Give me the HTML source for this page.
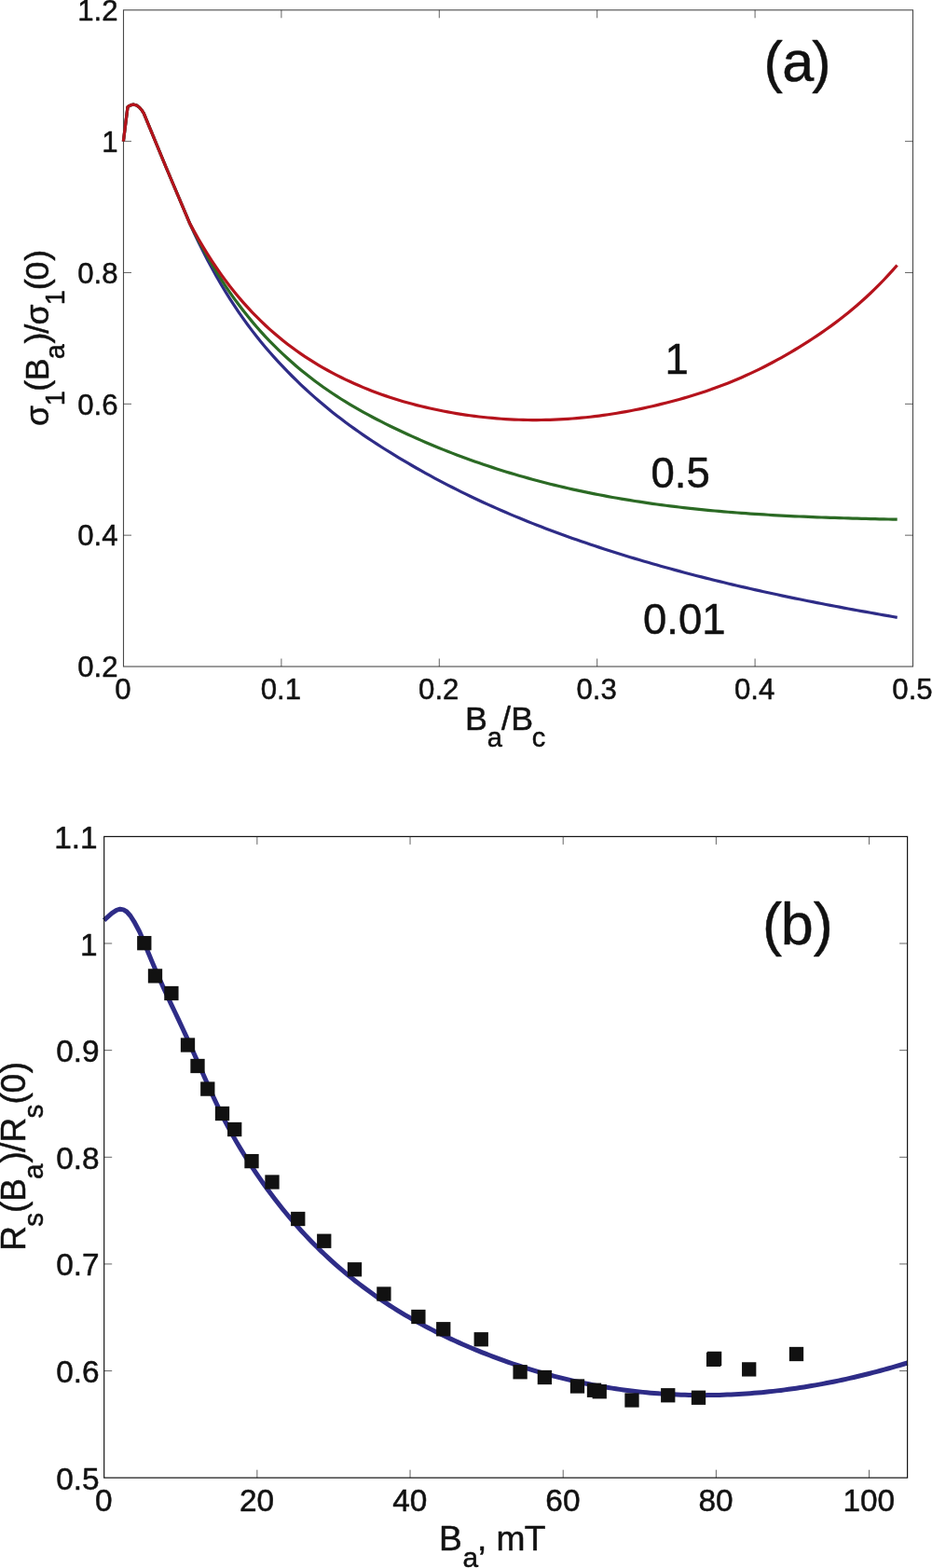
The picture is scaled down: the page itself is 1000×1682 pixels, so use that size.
<!DOCTYPE html>
<html lang="en"><head><meta charset="utf-8"><title>Figure</title>
<style>html,body{margin:0;padding:0;background:#fff;}body{width:1000px;height:1682px;overflow:hidden;}svg{display:block;}text{font-family:"Liberation Sans", sans-serif;fill:#111;stroke:#111;stroke-width:0.5px;stroke-linejoin:round;}</style></head><body>
<svg width="1000" height="1682" viewBox="0 0 1000 1682">
<rect x="0" y="0" width="1000" height="1682" fill="#fff"/>
<g id="plot-a">
<rect x="132.50" y="10.80" width="847.00" height="704.20" fill="none" stroke="#4a4a4a" stroke-width="1.1"/>
<path d="M301.90 715.00 v-8.5 M301.90 10.80 v8.5 M132.50 151.64 h8.5 M979.50 151.64 h-8.5 M471.30 715.00 v-8.5 M471.30 10.80 v8.5 M132.50 292.48 h8.5 M979.50 292.48 h-8.5 M640.70 715.00 v-8.5 M640.70 10.80 v8.5 M132.50 433.32 h8.5 M979.50 433.32 h-8.5 M810.10 715.00 v-8.5 M810.10 10.80 v8.5 M132.50 574.16 h8.5 M979.50 574.16 h-8.5" fill="none" stroke="#222" stroke-width="0.7"/>
<path d="M132.40 151.60 L137.00 114.80 L138.60 113.60 L140.60 112.70 L143.60 112.20 L146.60 113.00 L149.60 115.30 L152.20 118.30 L154.20 121.40 L178.40 180.00 L186.00 198.00 L203.60 239.61 L208.37 250.00 L213.15 260.00 L217.92 269.63 L222.70 278.91 L227.47 287.83 L232.25 296.42 L237.02 304.69 L241.79 312.65 L246.57 320.31 L251.34 327.68 L256.12 334.79 L260.89 341.64 L265.66 348.24 L270.44 354.61 L275.21 360.75 L279.99 366.69 L284.76 372.43 L289.54 378.00 L294.31 383.39 L299.08 388.62 L303.86 393.71 L308.63 398.67 L313.41 403.50 L318.18 408.20 L322.96 412.79 L327.73 417.27 L332.50 421.63 L337.28 425.89 L342.05 430.04 L346.83 434.09 L351.60 438.04 L356.37 441.90 L361.15 445.67 L365.92 449.35 L370.70 452.95 L375.47 456.48 L380.25 459.92 L385.02 463.30 L389.79 466.61 L394.57 469.85 L399.34 473.03 L404.12 476.16 L408.89 479.23 L413.67 482.26 L418.44 485.23 L423.21 488.17 L427.99 491.06 L432.76 493.92 L437.54 496.73 L442.31 499.50 L447.08 502.24 L451.86 504.94 L456.63 507.60 L461.41 510.22 L466.18 512.80 L470.96 515.35 L475.73 517.87 L480.50 520.34 L485.28 522.79 L490.05 525.19 L494.83 527.57 L499.60 529.91 L504.38 532.22 L509.15 534.49 L513.92 536.74 L518.70 538.95 L523.47 541.13 L528.25 543.29 L533.02 545.41 L537.79 547.50 L542.57 549.56 L547.34 551.60 L552.12 553.61 L556.89 555.59 L561.67 557.54 L566.44 559.47 L571.21 561.37 L575.99 563.25 L580.76 565.10 L585.54 566.92 L590.31 568.73 L595.09 570.51 L599.86 572.26 L604.63 574.00 L609.41 575.71 L614.18 577.40 L618.96 579.07 L623.73 580.72 L628.51 582.35 L633.28 583.96 L638.05 585.56 L642.83 587.13 L647.60 588.69 L652.38 590.22 L657.15 591.75 L661.92 593.25 L666.70 594.74 L671.47 596.21 L676.25 597.67 L681.02 599.11 L685.80 600.53 L690.57 601.94 L695.34 603.33 L700.12 604.71 L704.89 606.07 L709.67 607.42 L714.44 608.75 L719.22 610.07 L723.99 611.37 L728.76 612.66 L733.54 613.94 L738.31 615.20 L743.09 616.45 L747.86 617.68 L752.63 618.90 L757.41 620.11 L762.18 621.31 L766.96 622.49 L771.73 623.66 L776.51 624.82 L781.28 625.96 L786.05 627.10 L790.83 628.22 L795.60 629.33 L800.38 630.43 L805.15 631.51 L809.93 632.59 L814.70 633.66 L819.47 634.71 L824.25 635.75 L829.02 636.79 L833.80 637.81 L838.57 638.83 L843.34 639.83 L848.12 640.82 L852.89 641.81 L857.67 642.79 L862.44 643.75 L867.22 644.71 L871.99 645.66 L876.76 646.60 L881.54 647.53 L886.31 648.46 L891.09 649.37 L895.86 650.28 L900.64 651.18 L905.41 652.08 L910.18 652.97 L914.96 653.85 L919.73 654.72 L924.51 655.58 L929.28 656.44 L934.05 657.30 L938.83 658.15 L943.60 658.99 L948.38 659.82 L953.15 660.65 L957.93 661.48 L962.70 662.30" fill="none" stroke="#2e2c87" stroke-width="3.2" stroke-linejoin="round"/>
<path d="M132.40 151.60 L137.00 114.80 L138.60 113.60 L140.60 112.70 L143.60 112.20 L146.60 113.00 L149.60 115.30 L152.20 118.30 L154.20 121.40 L178.40 180.00 L186.00 198.00 L203.60 239.61 L208.37 249.12 L213.15 258.28 L217.92 267.10 L222.70 275.59 L227.47 283.77 L232.25 291.65 L237.02 299.22 L241.79 306.52 L246.57 313.54 L251.34 320.30 L256.12 326.80 L260.89 333.06 L265.66 339.09 L270.44 344.89 L275.21 350.48 L279.99 355.87 L284.76 361.07 L289.54 366.09 L294.31 370.93 L299.08 375.62 L303.86 380.15 L308.63 384.55 L313.41 388.81 L318.18 392.94 L322.96 396.94 L327.73 400.82 L332.50 404.59 L337.28 408.24 L342.05 411.78 L346.83 415.21 L351.60 418.55 L356.37 421.78 L361.15 424.93 L365.92 427.98 L370.70 430.96 L375.47 433.85 L380.25 436.66 L385.02 439.41 L389.79 442.08 L394.57 444.69 L399.34 447.25 L404.12 449.74 L408.89 452.19 L413.67 454.59 L418.44 456.94 L423.21 459.26 L427.99 461.54 L432.76 463.78 L437.54 465.99 L442.31 468.16 L447.08 470.29 L451.86 472.39 L456.63 474.46 L461.41 476.49 L466.18 478.48 L470.96 480.44 L475.73 482.36 L480.50 484.26 L485.28 486.12 L490.05 487.94 L494.83 489.73 L499.60 491.50 L504.38 493.22 L509.15 494.92 L513.92 496.59 L518.70 498.22 L523.47 499.82 L528.25 501.39 L533.02 502.94 L537.79 504.45 L542.57 505.93 L547.34 507.39 L552.12 508.81 L556.89 510.21 L561.67 511.57 L566.44 512.91 L571.21 514.22 L575.99 515.51 L580.76 516.77 L585.54 518.00 L590.31 519.20 L595.09 520.38 L599.86 521.53 L604.63 522.66 L609.41 523.76 L614.18 524.83 L618.96 525.88 L623.73 526.91 L628.51 527.92 L633.28 528.89 L638.05 529.85 L642.83 530.78 L647.60 531.69 L652.38 532.58 L657.15 533.45 L661.92 534.29 L666.70 535.12 L671.47 535.92 L676.25 536.70 L681.02 537.46 L685.80 538.20 L690.57 538.92 L695.34 539.62 L700.12 540.30 L704.89 540.96 L709.67 541.60 L714.44 542.23 L719.22 542.84 L723.99 543.43 L728.76 544.00 L733.54 544.55 L738.31 545.09 L743.09 545.61 L747.86 546.12 L752.63 546.61 L757.41 547.08 L762.18 547.54 L766.96 547.98 L771.73 548.41 L776.51 548.83 L781.28 549.23 L786.05 549.62 L790.83 549.99 L795.60 550.35 L800.38 550.70 L805.15 551.03 L809.93 551.36 L814.70 551.67 L819.47 551.97 L824.25 552.26 L829.02 552.54 L833.80 552.81 L838.57 553.06 L843.34 553.31 L848.12 553.55 L852.89 553.78 L857.67 554.00 L862.44 554.21 L867.22 554.41 L871.99 554.61 L876.76 554.80 L881.54 554.98 L886.31 555.15 L891.09 555.31 L895.86 555.47 L900.64 555.63 L905.41 555.77 L910.18 555.92 L914.96 556.05 L919.73 556.19 L924.51 556.31 L929.28 556.44 L934.05 556.55 L938.83 556.67 L943.60 556.78 L948.38 556.89 L953.15 557.00 L957.93 557.10 L962.70 557.20" fill="none" stroke="#2b6a24" stroke-width="3.2" stroke-linejoin="round"/>
<path d="M132.40 151.60 L137.00 114.80 L138.60 113.60 L140.60 112.70 L143.60 112.20 L146.60 113.00 L149.60 115.30 L152.20 118.30 L154.20 121.40 L178.40 180.00 L186.00 198.00 L203.60 239.61 L208.37 248.37 L213.15 256.79 L217.92 264.88 L222.69 272.64 L227.47 280.08 L232.24 287.23 L237.02 294.08 L241.79 300.65 L246.56 306.96 L251.34 313.00 L256.11 318.80 L260.88 324.36 L265.66 329.69 L270.43 334.81 L275.20 339.72 L279.98 344.43 L284.75 348.97 L289.52 353.33 L294.30 357.53 L299.07 361.57 L303.85 365.46 L308.62 369.21 L313.39 372.82 L318.17 376.29 L322.94 379.63 L327.71 382.85 L332.49 385.95 L337.26 388.93 L342.03 391.81 L346.81 394.58 L351.58 397.25 L356.35 399.84 L361.13 402.33 L365.90 404.74 L370.68 407.07 L375.45 409.32 L380.22 411.49 L385.00 413.58 L389.77 415.60 L394.54 417.55 L399.32 419.42 L404.09 421.22 L408.86 422.96 L413.64 424.63 L418.41 426.23 L423.18 427.77 L427.96 429.25 L432.73 430.67 L437.51 432.03 L442.28 433.33 L447.05 434.58 L451.83 435.77 L456.60 436.91 L461.37 438.01 L466.15 439.05 L470.92 440.05 L475.69 441.00 L480.47 441.90 L485.24 442.76 L490.02 443.57 L494.79 444.34 L499.56 445.07 L504.34 445.75 L509.11 446.38 L513.88 446.97 L518.66 447.51 L523.43 448.01 L528.20 448.46 L532.98 448.87 L537.75 449.24 L542.52 449.55 L547.30 449.83 L552.07 450.06 L556.85 450.25 L561.62 450.39 L566.39 450.48 L571.17 450.54 L575.94 450.54 L580.71 450.51 L585.49 450.43 L590.26 450.30 L595.03 450.14 L599.81 449.92 L604.58 449.67 L609.35 449.37 L614.13 449.02 L618.90 448.64 L623.68 448.21 L628.45 447.73 L633.22 447.22 L638.00 446.66 L642.77 446.06 L647.54 445.41 L652.32 444.73 L657.09 444.00 L661.86 443.24 L666.64 442.43 L671.41 441.59 L676.18 440.70 L680.96 439.78 L685.73 438.81 L690.51 437.81 L695.28 436.77 L700.05 435.69 L704.83 434.58 L709.60 433.43 L714.37 432.24 L719.15 431.02 L723.92 429.75 L728.69 428.45 L733.47 427.10 L738.24 425.70 L743.02 424.27 L747.79 422.78 L752.56 421.24 L757.34 419.66 L762.11 418.02 L766.88 416.32 L771.66 414.57 L776.43 412.77 L781.20 410.90 L785.98 408.97 L790.75 406.98 L795.52 404.93 L800.30 402.81 L805.07 400.63 L809.85 398.39 L814.62 396.08 L819.39 393.70 L824.17 391.26 L828.94 388.76 L833.71 386.18 L838.49 383.55 L843.26 380.85 L848.03 378.08 L852.81 375.25 L857.58 372.35 L862.35 369.38 L867.13 366.35 L871.90 363.25 L876.68 360.08 L881.45 356.84 L886.22 353.51 L891.00 350.10 L895.77 346.59 L900.54 342.99 L905.32 339.28 L910.09 335.47 L914.86 331.53 L919.64 327.48 L924.41 323.29 L929.18 318.98 L933.96 314.52 L938.73 309.92 L943.51 305.16 L948.28 300.25 L953.05 295.18 L957.83 289.93 L962.60 284.51" fill="none" stroke="#b5131c" stroke-width="3.2" stroke-linejoin="round"/>
<text x="132.00" y="749.60" font-size="31.20" text-anchor="middle">0</text>
<text x="301.40" y="749.60" font-size="31.20" text-anchor="middle">0.1</text>
<text x="470.80" y="749.60" font-size="31.20" text-anchor="middle">0.2</text>
<text x="640.20" y="749.60" font-size="31.20" text-anchor="middle">0.3</text>
<text x="809.60" y="749.60" font-size="31.20" text-anchor="middle">0.4</text>
<text x="979.00" y="749.60" font-size="31.20" text-anchor="middle">0.5</text>
<text x="126.60" y="22.10" font-size="31.20" text-anchor="end">1.2</text>
<text x="126.60" y="162.94" font-size="31.20" text-anchor="end">1</text>
<text x="126.60" y="303.78" font-size="31.20" text-anchor="end">0.8</text>
<text x="126.60" y="444.62" font-size="31.20" text-anchor="end">0.6</text>
<text x="126.60" y="585.46" font-size="31.20" text-anchor="end">0.4</text>
<text x="126.60" y="726.30" font-size="31.20" text-anchor="end">0.2</text>
<text x="499.06" y="782.80" font-size="35.80" text-anchor="start">B</text>
<text x="522.77" y="800.80" font-size="29.00" text-anchor="start">a</text>
<text x="538.00" y="782.80" font-size="35.80" text-anchor="start">/</text>
<text x="548.26" y="782.80" font-size="35.80" text-anchor="start">B</text>
<text x="570.77" y="800.80" font-size="29.00" text-anchor="start">c</text>
<g transform="translate(52.3 456) rotate(-90)">
<text x="-1.10" y="0.00" font-size="35.80" text-anchor="start">σ</text>
<text x="20.69" y="17.00" font-size="29.00" text-anchor="start">1</text>
<text x="36.28" y="0.00" font-size="35.80" text-anchor="start">(</text>
<text x="47.66" y="0.00" font-size="35.80" text-anchor="start">B</text>
<text x="70.77" y="17.00" font-size="29.00" text-anchor="start">a</text>
<text x="87.59" y="0.00" font-size="35.80" text-anchor="start">)</text>
<text x="98.20" y="0.00" font-size="35.80" text-anchor="start">/</text>
<text x="107.50" y="0.00" font-size="35.80" text-anchor="start">σ</text>
<text x="128.89" y="17.00" font-size="29.00" text-anchor="start">1</text>
<text x="144.68" y="0.00" font-size="35.80" text-anchor="start">(</text>
<text x="155.50" y="0.00" font-size="35.80" text-anchor="start">0</text>
<text x="176.19" y="0.00" font-size="35.80" text-anchor="start">)</text>
</g>
<text x="713.50" y="401.00" font-size="45.50" text-anchor="start">1</text>
<text x="698.50" y="523.30" font-size="45.50" text-anchor="start">0.5</text>
<text x="690.00" y="679.50" font-size="45.50" text-anchor="start">0.01</text>
<text x="819.62" y="86.60" font-size="61.00" text-anchor="start">(</text>
<text x="839.31" y="86.60" font-size="61.00" text-anchor="start">a</text>
<text x="871.34" y="86.60" font-size="61.00" text-anchor="start">)</text>
</g>
<g id="plot-b">
<path d="M111.60 987.20 L120.00 979.60 L125.00 976.30 L128.80 975.20 L132.50 975.90 L136.00 978.00 L140.00 982.50 L144.00 988.80 L149.60 999.20 L154.80 1011.20 L158.91 1021.48 L163.03 1031.40 L167.14 1041.00 L171.26 1050.32 L175.37 1059.41 L179.49 1068.31 L183.60 1077.07 L187.72 1085.76 L191.83 1094.44 L195.95 1103.20 L200.06 1112.11 L204.17 1121.20 L208.29 1130.42 L212.40 1139.71 L216.52 1149.02 L220.63 1158.30 L224.75 1167.47 L228.86 1176.49 L232.98 1185.29 L237.09 1193.83 L241.21 1202.03 L245.32 1209.88 L249.44 1217.40 L253.55 1224.62 L257.66 1231.58 L261.78 1238.30 L265.89 1244.81 L270.01 1251.15 L274.12 1257.33 L278.24 1263.35 L282.35 1269.23 L286.47 1274.96 L290.58 1280.54 L294.70 1285.99 L298.81 1291.30 L302.92 1296.47 L307.04 1301.52 L311.15 1306.44 L315.27 1311.23 L319.38 1315.91 L323.50 1320.47 L327.61 1324.91 L331.73 1329.25 L335.84 1333.48 L339.96 1337.60 L344.07 1341.63 L348.18 1345.56 L352.30 1349.40 L356.41 1353.14 L360.53 1356.81 L364.64 1360.38 L368.76 1363.88 L372.87 1367.31 L376.99 1370.65 L381.10 1373.93 L385.22 1377.13 L389.33 1380.27 L393.45 1383.33 L397.56 1386.33 L401.67 1389.26 L405.79 1392.13 L409.90 1394.94 L414.02 1397.69 L418.13 1400.37 L422.25 1403.00 L426.36 1405.57 L430.48 1408.08 L434.59 1410.54 L438.71 1412.95 L442.82 1415.31 L446.93 1417.61 L451.05 1419.87 L455.16 1422.08 L459.28 1424.25 L463.39 1426.37 L467.51 1428.45 L471.62 1430.49 L475.74 1432.48 L479.85 1434.44 L483.97 1436.37 L488.08 1438.25 L492.19 1440.11 L496.31 1441.93 L500.42 1443.71 L504.54 1445.47 L508.65 1447.20 L512.77 1448.89 L516.88 1450.56 L521.00 1452.19 L525.11 1453.79 L529.23 1455.36 L533.34 1456.90 L537.46 1458.41 L541.57 1459.88 L545.68 1461.33 L549.80 1462.75 L553.91 1464.13 L558.03 1465.49 L562.14 1466.81 L566.26 1468.11 L570.37 1469.37 L574.49 1470.61 L578.60 1471.81 L582.72 1472.99 L586.83 1474.13 L590.94 1475.25 L595.06 1476.34 L599.17 1477.39 L603.29 1478.42 L607.40 1479.42 L611.52 1480.39 L615.63 1481.33 L619.75 1482.24 L623.86 1483.12 L627.98 1483.98 L632.09 1484.80 L636.21 1485.60 L640.32 1486.36 L644.43 1487.10 L648.55 1487.81 L652.66 1488.50 L656.78 1489.15 L660.89 1489.78 L665.01 1490.37 L669.12 1490.94 L673.24 1491.49 L677.35 1492.00 L681.47 1492.49 L685.58 1492.95 L689.69 1493.38 L693.81 1493.78 L697.92 1494.16 L702.04 1494.51 L706.15 1494.83 L710.27 1495.13 L714.38 1495.40 L718.50 1495.64 L722.61 1495.86 L726.73 1496.05 L730.84 1496.21 L734.95 1496.34 L739.07 1496.45 L743.18 1496.54 L747.30 1496.59 L751.41 1496.62 L755.53 1496.63 L759.64 1496.61 L763.76 1496.56 L767.87 1496.49 L771.99 1496.39 L776.10 1496.26 L780.22 1496.12 L784.33 1495.94 L788.44 1495.74 L792.56 1495.52 L796.67 1495.26 L800.79 1494.99 L804.90 1494.69 L809.02 1494.36 L813.13 1494.01 L817.25 1493.64 L821.36 1493.24 L825.48 1492.82 L829.59 1492.37 L833.70 1491.89 L837.82 1491.40 L841.93 1490.88 L846.05 1490.33 L850.16 1489.76 L854.28 1489.17 L858.39 1488.55 L862.51 1487.91 L866.62 1487.25 L870.74 1486.56 L874.85 1485.85 L878.96 1485.12 L883.08 1484.36 L887.19 1483.58 L891.31 1482.78 L895.42 1481.95 L899.54 1481.10 L903.65 1480.23 L907.77 1479.34 L911.88 1478.42 L916.00 1477.48 L920.11 1476.52 L924.23 1475.53 L928.34 1474.53 L932.45 1473.50 L936.57 1472.45 L940.68 1471.37 L944.80 1470.28 L948.91 1469.16 L953.03 1468.03 L957.14 1466.87 L961.26 1465.68 L965.37 1464.48 L969.49 1463.26 L973.60 1462.01" fill="none" stroke="#2e2c87" stroke-width="5.0" stroke-linejoin="round"/>
<rect x="147.15" y="1004.05" width="15.3" height="15.3" fill="#111"/>
<rect x="158.85" y="1039.25" width="15.3" height="15.3" fill="#111"/>
<rect x="176.25" y="1057.85" width="15.3" height="15.3" fill="#111"/>
<rect x="193.85" y="1113.35" width="15.3" height="15.3" fill="#111"/>
<rect x="204.35" y="1135.85" width="15.3" height="15.3" fill="#111"/>
<rect x="215.15" y="1160.45" width="15.3" height="15.3" fill="#111"/>
<rect x="230.85" y="1186.85" width="15.3" height="15.3" fill="#111"/>
<rect x="244.05" y="1203.85" width="15.3" height="15.3" fill="#111"/>
<rect x="262.35" y="1237.95" width="15.3" height="15.3" fill="#111"/>
<rect x="284.35" y="1260.35" width="15.3" height="15.3" fill="#111"/>
<rect x="312.10" y="1299.85" width="15.3" height="15.3" fill="#111"/>
<rect x="340.10" y="1323.60" width="15.3" height="15.3" fill="#111"/>
<rect x="372.85" y="1354.10" width="15.3" height="15.3" fill="#111"/>
<rect x="404.25" y="1380.35" width="15.3" height="15.3" fill="#111"/>
<rect x="441.25" y="1404.85" width="15.3" height="15.3" fill="#111"/>
<rect x="468.10" y="1418.10" width="15.3" height="15.3" fill="#111"/>
<rect x="508.60" y="1429.10" width="15.3" height="15.3" fill="#111"/>
<rect x="550.45" y="1464.10" width="15.3" height="15.3" fill="#111"/>
<rect x="576.75" y="1469.85" width="15.3" height="15.3" fill="#111"/>
<rect x="611.85" y="1479.35" width="15.3" height="15.3" fill="#111"/>
<rect x="629.85" y="1483.60" width="15.3" height="15.3" fill="#111"/>
<rect x="635.60" y="1485.10" width="15.3" height="15.3" fill="#111"/>
<rect x="670.35" y="1494.35" width="15.3" height="15.3" fill="#111"/>
<rect x="709.10" y="1489.10" width="15.3" height="15.3" fill="#111"/>
<rect x="741.85" y="1491.60" width="15.3" height="15.3" fill="#111"/>
<rect x="757.95" y="1450.65" width="15.3" height="15.3" fill="#111"/>
<rect x="758.95" y="1449.75" width="15.3" height="15.3" fill="#111"/>
<rect x="796.05" y="1461.25" width="15.3" height="15.3" fill="#111"/>
<rect x="846.85" y="1444.85" width="15.3" height="15.3" fill="#111"/>
<rect x="111.70" y="897.40" width="861.90" height="687.80" fill="none" stroke="#141414" stroke-width="1.2"/>
<path d="M275.87 1585.20 v-8.5 M275.87 897.40 v8.5 M440.04 1585.20 v-8.5 M440.04 897.40 v8.5 M604.21 1585.20 v-8.5 M604.21 897.40 v8.5 M768.39 1585.20 v-8.5 M768.39 897.40 v8.5 M932.56 1585.20 v-8.5 M932.56 897.40 v8.5 M111.70 1012.03 h8.5 M973.60 1012.03 h-8.5 M111.70 1126.67 h8.5 M973.60 1126.67 h-8.5 M111.70 1241.30 h8.5 M973.60 1241.30 h-8.5 M111.70 1355.93 h8.5 M973.60 1355.93 h-8.5 M111.70 1470.57 h8.5 M973.60 1470.57 h-8.5" fill="none" stroke="#222" stroke-width="0.7"/>
<text x="111.40" y="1621.40" font-size="33.40" text-anchor="middle">0</text>
<text x="275.57" y="1621.40" font-size="33.40" text-anchor="middle">20</text>
<text x="439.74" y="1621.40" font-size="33.40" text-anchor="middle">40</text>
<text x="603.91" y="1621.40" font-size="33.40" text-anchor="middle">60</text>
<text x="768.09" y="1621.40" font-size="33.40" text-anchor="middle">80</text>
<text x="932.26" y="1621.40" font-size="33.40" text-anchor="middle">100</text>
<text x="104.60" y="909.90" font-size="33.40" text-anchor="end">1.1</text>
<text x="104.60" y="1024.53" font-size="33.40" text-anchor="end">1</text>
<text x="106.60" y="1139.17" font-size="33.40" text-anchor="end">0.9</text>
<text x="106.60" y="1253.80" font-size="33.40" text-anchor="end">0.8</text>
<text x="106.60" y="1368.43" font-size="33.40" text-anchor="end">0.7</text>
<text x="106.60" y="1483.07" font-size="33.40" text-anchor="end">0.6</text>
<text x="106.60" y="1597.70" font-size="33.40" text-anchor="end">0.5</text>
<text x="470.95" y="1662.50" font-size="37.20" text-anchor="start">B</text>
<text x="496.53" y="1681.30" font-size="29.80" text-anchor="start">a</text>
<text x="511.96" y="1662.50" font-size="37.20" text-anchor="start">,</text>
<text x="532.43" y="1662.50" font-size="37.20" text-anchor="start">m</text>
<text x="562.76" y="1662.50" font-size="37.20" text-anchor="start">T</text>
<g transform="translate(27 1339) rotate(-90)">
<text x="-2.65" y="0.00" font-size="37.20" text-anchor="start">R</text>
<text x="23.37" y="18.80" font-size="29.80" text-anchor="start">s</text>
<text x="37.99" y="0.00" font-size="37.20" text-anchor="start">(</text>
<text x="50.25" y="0.00" font-size="37.20" text-anchor="start">B</text>
<text x="74.03" y="18.80" font-size="29.80" text-anchor="start">a</text>
<text x="91.58" y="0.00" font-size="37.20" text-anchor="start">)</text>
<text x="103.00" y="0.00" font-size="37.20" text-anchor="start">/</text>
<text x="113.55" y="0.00" font-size="37.20" text-anchor="start">R</text>
<text x="139.57" y="18.80" font-size="29.80" text-anchor="start">s</text>
<text x="154.59" y="0.00" font-size="37.20" text-anchor="start">(</text>
<text x="166.55" y="0.00" font-size="37.20" text-anchor="start">0</text>
<text x="187.78" y="0.00" font-size="37.20" text-anchor="start">)</text>
</g>
<text x="817.89" y="1013.00" font-size="63.00" text-anchor="start">(</text>
<text x="837.84" y="1013.00" font-size="63.00" text-anchor="start">b</text>
<text x="872.83" y="1013.00" font-size="63.00" text-anchor="start">)</text>
</g>
</svg></body></html>
